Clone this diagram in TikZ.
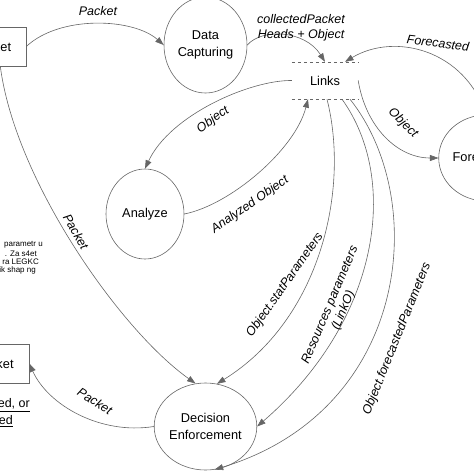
\documentclass[tikz,border=0pt]{standalone}
\usepackage{fontspec}
\setmainfont{Liberation Sans}
\usetikzlibrary{arrows.meta,shapes.geometric}
\begin{document}
\begin{tikzpicture}[x=1pt,y=-1pt,
  proc/.style={ellipse, draw=black!60, line width=0.6pt, align=center, inner sep=0pt,
    font=\fontsize{12.8}{17}\selectfont},
  store/.style={rectangle, draw=black!60, line width=0.6pt, inner sep=0pt,
    font=\fontsize{12.8}{15}\selectfont},
  flow/.style={draw=black!60, line width=0.6pt, -{Triangle[length=8.5pt,width=6pt]}},
  lbl/.style={font=\fontsize{12.5}{14.5}\selectfont\itshape, inner sep=0pt, align=center},
  tiny/.style={font=\fontsize{8}{9}\selectfont, inner sep=0pt, anchor=east},
  uline/.style={font=\fontsize{12.5}{14}\selectfont, inner sep=0pt, anchor=east}]
\useasboundingbox (0,0) rectangle (474,474);
\clip (0,0) rectangle (474,474);

% stores
\node[store, minimum width=69pt, minimum height=39pt] (boxTL) at (-8.5,46.5) {Packet};
\node[store, minimum width=70pt, minimum height=39pt] (boxBL) at (-6,363.5) {Packet};

% processes
\node[proc, minimum width=83pt, minimum height=96pt] (dc) at (205.5,45) {Data\\Capturing};
\node[proc, minimum width=78pt, minimum height=90pt] (an) at (145,214) {Analyze};
\node[proc, minimum width=77pt, minimum height=87pt] (de) at (205.5,426.5) {Decision\\Enforcement};
\node[proc, minimum width=78pt, minimum height=86pt] (fc) at (486,158) {Forecasting};

% data store Links
\node[rectangle, minimum width=66pt, minimum height=37pt, inner sep=0pt,
  font=\fontsize{12.8}{15}\selectfont] (links) at (325,80.5) {Links};
\draw[draw=black!60, line width=0.6pt, dashed] (links.north west) -- (links.north east);
\draw[draw=black!60, line width=0.6pt, dashed] (links.south west) -- (links.south east);

% connectors
\draw[flow] (boxTL.east) .. controls (60,15) and (133,18) .. (dc.west);
\draw[flow] (dc.east) .. controls (262,28) and (305,30) .. (links.north);
\draw[flow] (fc.north) .. controls (465,50) and (395,32) .. ([xshift=20pt]links.north);
\draw[flow] (links.west) .. controls (250,80) and (170,115) .. (an.north);
\draw[flow] (an.east) .. controls (230,205) and (295,150) .. ([xshift=-17pt]links.south);
\draw[flow] ([xshift=2pt]links.south) .. controls (350,190) and (320,320) .. (de.75);
\draw[flow] ([xshift=17pt]links.south) .. controls (400,180) and (380,320) .. (de.east);
\draw[flow] ([xshift=25pt]links.south) .. controls (430,200) and (410,410) .. (de.-78);
\draw[flow] (links.east) .. controls (366,128) and (398,158) .. (fc.west);
\draw[flow] (de.west) .. controls (100,435) and (48,405) .. (boxBL.east);
\coordinate (tlstart) at ([xshift=-26pt]boxTL.south east);
\draw[flow] (tlstart) .. controls (15,180) and (120,330) .. (de.103);

% labels
\node[lbl] (l1) at (98,11) {Packet};
\node[lbl] (l2) at (301,28) {collectedPacket\\Heads + Object};
\node[lbl, rotate=-7] (l3) at (438,43) {Forecasted};
\node[lbl, rotate=35] (l4) at (213,120) {Object};
\node[lbl, rotate=35] (l5) at (250,205) {Analyzed Object};
\node[lbl, rotate=-45] (l6) at (403,123) {Object};
\node[lbl, rotate=55] (l7) at (285,285) {Object.statParameters};
\node[lbl, rotate=67] (l8) at (337,308) {Resources parameters\\(LinkO)};
\node[lbl, rotate=68] (l9) at (397,339) {Object.forecastedParameters};
\node[lbl, rotate=-60] (l10) at (76,232) {Packet};
\node[lbl, rotate=-32] (l11) at (95,401) {Packet};

% side texts
\node[tiny] (t1) at (43,245) {parametr u};
\node[tiny] (t2) at (37,253.5) {. Za s4et};
\node[tiny] (t3) at (39,262) {ra LEGKC};
\node[tiny] (t4) at (36,270.5) {lik shap ng};
\node[uline] (u1) at (30,405) {\underline{ed, or}};
\node[uline] (u2) at (13,421) {\underline{ed}};
\end{tikzpicture}
\end{document}
